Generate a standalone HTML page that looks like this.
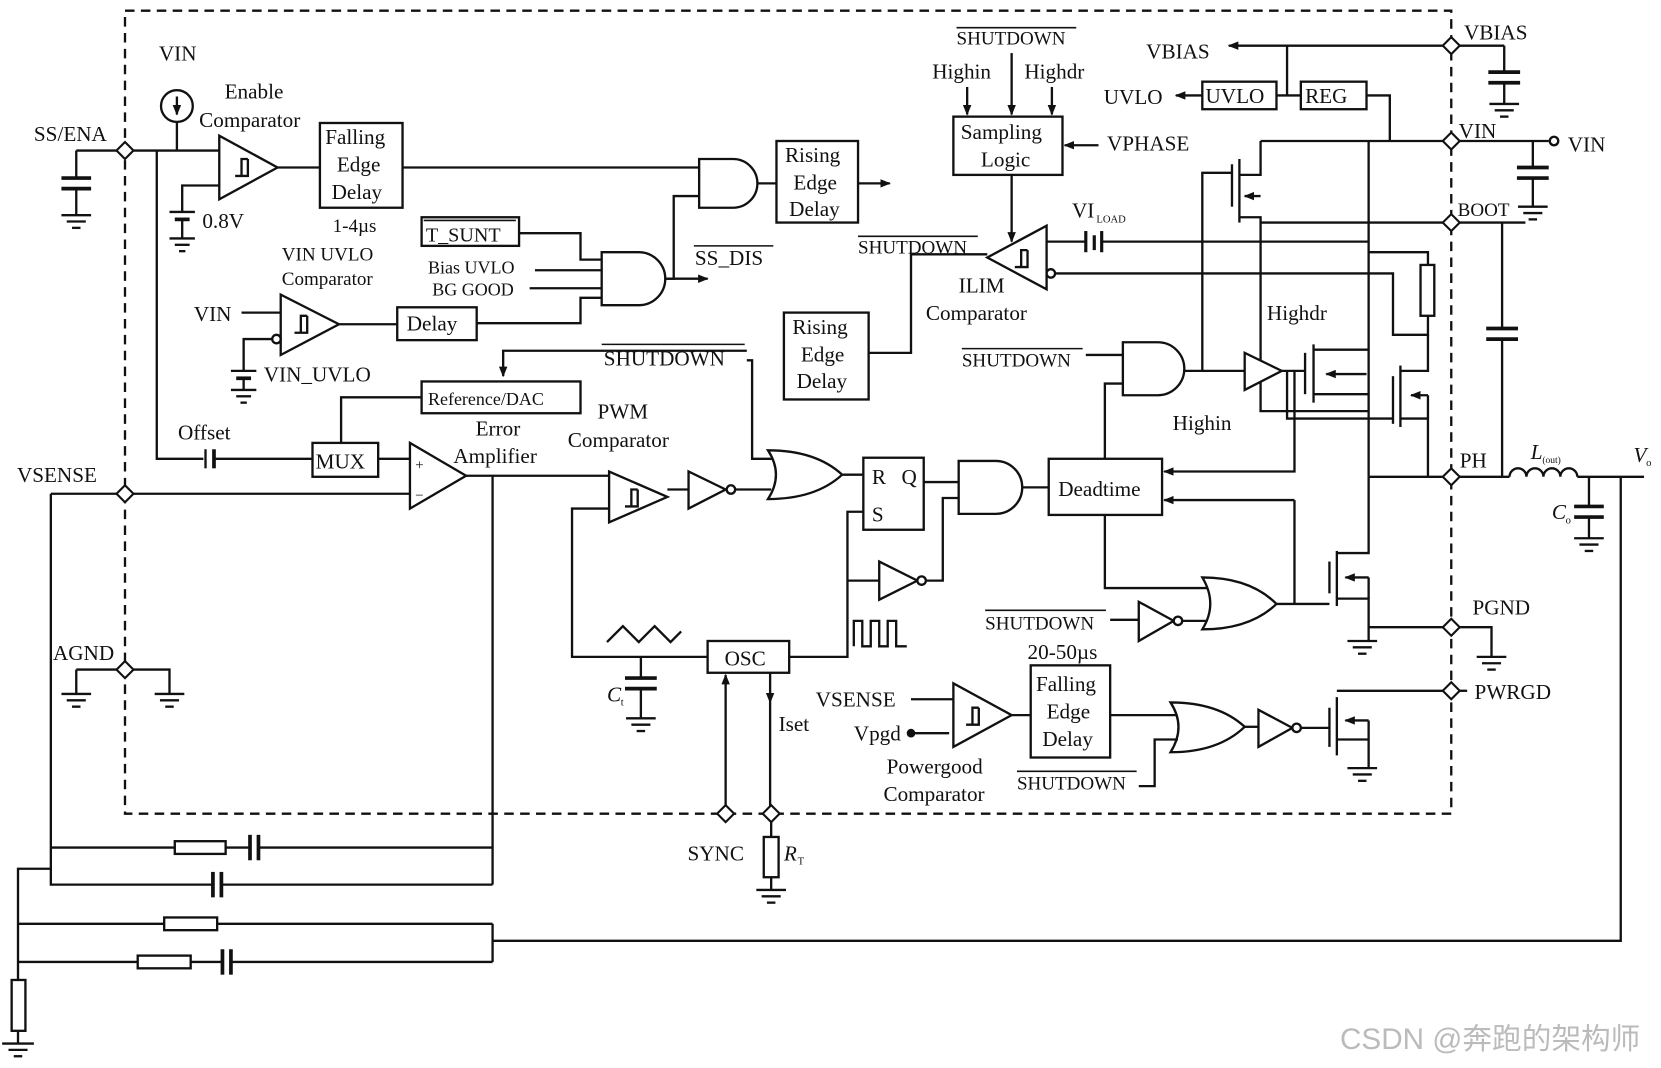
<!DOCTYPE html>
<html><head><meta charset="utf-8"><style>
html,body{margin:0;padding:0;background:#fff;}
svg{display:block}
text{font-family:"Liberation Serif",serif;fill:#111}
</style></head><body>
<svg width="1661" height="1068" viewBox="0 0 1568 1008" xmlns="http://www.w3.org/2000/svg" font-size="20">
<defs>
<marker id="ar" markerWidth="10" markerHeight="8" refX="9" refY="4" orient="auto" markerUnits="userSpaceOnUse" viewBox="0 0 10 8"><path d="M0,0 L10,4 L0,8 Z" fill="#111"/></marker>
</defs>
<g stroke="#111" stroke-width="2.2" fill="none">
<rect x="118" y="10" width="1252" height="758" stroke-dasharray="9,6"/>

<line x1="72" y1="142" x2="207" y2="142"/>
<line x1="72" y1="142" x2="72" y2="168"/>
<line x1="58" y1="168" x2="86" y2="168" stroke-width="3.5"/><line x1="58" y1="178" x2="86" y2="178" stroke-width="3.5"/>
<line x1="72" y1="178" x2="72" y2="203"/>
<line x1="58" y1="203" x2="86" y2="203"/><line x1="63" y1="209" x2="81" y2="209"/><line x1="68" y1="215" x2="76" y2="215"/>
<circle cx="167" cy="100" r="15"/>
<line x1="167" y1="91" x2="167" y2="108" marker-end="url(#ar)"/>
<line x1="167" y1="115" x2="167" y2="142"/>
<polygon points="207,128 207,188 262,158" fill="#fff"/>
<path d="M222,166 h6 v-16 h6 M228,166 h6 v-16"/>
<line x1="262" y1="158" x2="302" y2="158"/>
<path d="M207,175 H172 V200"/>
<line x1="160" y1="200" x2="184" y2="200"/><line x1="165" y1="207" x2="179" y2="207" stroke-width="3.5"/>
<line x1="172" y1="207" x2="172" y2="225"/>
<line x1="160" y1="225" x2="184" y2="225"/><line x1="165" y1="231" x2="179" y2="231"/><line x1="169" y1="237" x2="175" y2="237"/>
<rect x="302" y="116" width="78" height="80"/>
<line x1="380" y1="158" x2="660" y2="158"/>
<path d="M660,150 H692 A23,23 0 0 1 692,196 H660 Z" fill="#fff"/>
<line x1="715" y1="173" x2="733" y2="173"/>
<rect x="733" y="133" width="77" height="77"/>
<line x1="810" y1="173" x2="840" y2="173" marker-end="url(#ar)"/>
<path d="M628,263 H636 V185 H660"/>
<path d="M568,238 H603 A25,25 0 0 1 603,288 H568 Z" fill="#fff"/>
<line x1="628" y1="263" x2="668" y2="263" marker-end="url(#ar)"/>
<rect x="398" y="205" width="92" height="27"/>
<path d="M490,220 H548 V245 H568"/>
<line x1="505" y1="255" x2="568" y2="255"/>
<line x1="500" y1="272" x2="568" y2="272"/>
<path d="M450,305 H548 V281 H568"/>
<line x1="228" y1="295" x2="265" y2="295"/>
<polygon points="265,278 265,335 320,306" fill="#fff"/>
<path d="M278,314 h6 v-16 h6 M284,314 h6 v-16"/>
<circle cx="261" cy="320" r="4" fill="#fff"/>
<path d="M257,320 H230 V350"/>
<line x1="218" y1="350" x2="242" y2="350"/><line x1="223" y1="357" x2="237" y2="357" stroke-width="3.5"/>
<line x1="230" y1="357" x2="230" y2="368"/>
<line x1="218" y1="368" x2="242" y2="368"/><line x1="223" y1="374" x2="237" y2="374"/><line x1="227" y1="380" x2="233" y2="380"/>
<line x1="320" y1="306" x2="375" y2="306"/>
<rect x="375" y="290" width="75" height="31"/>
<path d="M148,142 V433 H192"/>
<line x1="194" y1="424" x2="194" y2="442"/><line x1="202" y1="424" x2="202" y2="442" stroke-width="3.5"/>
<line x1="202" y1="433" x2="295" y2="433"/>
<rect x="295" y="418" width="62" height="32"/>
<path d="M322,418 V375 H398"/>
<rect x="398" y="360" width="150" height="30"/>
<path d="M705,331 H475 V355" marker-end="url(#ar)"/>
<line x1="357" y1="433" x2="387" y2="433"/>
<polygon points="387,418 387,480 440,449" fill="#fff"/>
<line x1="48" y1="466" x2="387" y2="466"/>
<path d="M440,449 H575"/>
<path d="M465,449 V835"/>
<polygon points="575,445 575,493 630,469" fill="#fff"/>
<path d="M590,478 h6 v-16 h6 M596,478 h6 v-16"/>
<path d="M575,480 H540 V620 H668"/>
<line x1="630" y1="462" x2="650" y2="462"/>
<polygon points="650,445 650,480 685,462" fill="#fff"/>
<circle cx="690" cy="462" r="4" fill="#fff"/>
<line x1="694" y1="462" x2="728" y2="462"/>
<path d="M725,425 Q770,425 795,448 Q770,471 725,471 Q740,448 725,425 Z" fill="#fff"/>
<path d="M705,340 H710 V433 H730"/>
<line x1="795" y1="448" x2="815" y2="448"/>
<rect x="815" y="432" width="57" height="68"/>
<path d="M872,455 H905"/>
<path d="M905,435 H940 A25,25 0 0 1 940,485 H905 Z" fill="#fff"/>
<line x1="965" y1="460" x2="990" y2="460"/>
<rect x="990" y="433" width="107" height="53"/>
<path d="M815,483 H800 V620 H745"/>
<path d="M800,548 H830"/>
<polygon points="830,530 830,566 866,548" fill="#fff"/>
<circle cx="870" cy="548" r="4" fill="#fff"/>
<path d="M874,548 H890 V470 H905"/>
<path d="M806,610 V586 h8 v24 h8 v-24 h8 v24 h8 v-24 h8 v24 h10"/>
<path d="M573,606 l15,-15 l15,15 l15,-15 l15,15 l10,-10"/>
<line x1="605" y1="620" x2="605" y2="640"/>
<line x1="590" y1="640" x2="620" y2="640" stroke-width="3.5"/><line x1="590" y1="650" x2="620" y2="650" stroke-width="3.5"/>
<line x1="605" y1="650" x2="605" y2="678"/>
<line x1="591" y1="678" x2="619" y2="678"/><line x1="596" y1="684" x2="614" y2="684"/><line x1="601" y1="690" x2="609" y2="690"/>
<rect x="668" y="605" width="77" height="30"/>
<line x1="685" y1="763" x2="685" y2="637" marker-end="url(#ar)"/>
<line x1="727" y1="635" x2="727" y2="663" marker-end="url(#ar)"/>
<line x1="727" y1="663" x2="727" y2="763"/>
<line x1="728" y1="773" x2="728" y2="790"/>
<rect x="721" y="790" width="14" height="38"/>
<line x1="728" y1="828" x2="728" y2="840"/>
<line x1="714" y1="840" x2="742" y2="840"/><line x1="719" y1="846" x2="737" y2="846"/><line x1="724" y1="852" x2="732" y2="852"/>
<rect x="740" y="295" width="80" height="82"/>
<path d="M820,333 H860 V240 H932"/>
<polygon points="988,213 988,273 932,243" fill="#fff"/>
<path d="M958,252 h6 v-16 h6 M964,252 h6 v-16"/>
<circle cx="992" cy="258" r="4" fill="#fff"/>
<line x1="988" y1="228" x2="1025" y2="228"/>
<line x1="1025" y1="218" x2="1025" y2="238" stroke-width="3"/>
<line x1="1033" y1="222" x2="1033" y2="236" stroke-width="3"/>
<line x1="1040" y1="218" x2="1040" y2="238" stroke-width="3"/>
<line x1="1040" y1="228" x2="1292" y2="228"/>
<path d="M996,258 H1315 V316 H1348 V298"/>
<rect x="900" y="110" width="103" height="55"/>
<line x1="955" y1="165" x2="955" y2="228" marker-end="url(#ar)"/>
<line x1="955" y1="50" x2="955" y2="108" marker-end="url(#ar)"/>
<line x1="913" y1="82" x2="913" y2="108" marker-end="url(#ar)"/>
<line x1="993" y1="82" x2="993" y2="108" marker-end="url(#ar)"/>
<line x1="1037" y1="137" x2="1005" y2="137" marker-end="url(#ar)"/>
<path d="M1368,43 H1160" marker-end="url(#ar)"/>
<path d="M1215,43 V90"/>
<path d="M1420,43 V68"/>
<line x1="1405" y1="68" x2="1435" y2="68" stroke-width="3.5"/><line x1="1405" y1="78" x2="1435" y2="78" stroke-width="3.5"/>
<line x1="1420" y1="78" x2="1420" y2="98"/>
<line x1="1406" y1="98" x2="1434" y2="98"/><line x1="1411" y1="104" x2="1429" y2="104"/><line x1="1416" y1="110" x2="1424" y2="110"/>
<line x1="1372" y1="43" x2="1420" y2="43"/>
<rect x="1135" y="77" width="70" height="26"/>
<rect x="1228" y="77" width="62" height="26"/>
<line x1="1205" y1="90" x2="1228" y2="90"/>
<line x1="1135" y1="90" x2="1110" y2="90" marker-end="url(#ar)"/>
<path d="M1290,90 H1312 V133"/>
<line x1="1190" y1="133" x2="1368" y2="133"/>
<line x1="1372" y1="133" x2="1462" y2="133"/>
<circle cx="1467" cy="133" r="4" fill="#fff"/>
<path d="M1447,133 V158"/>
<line x1="1432" y1="158" x2="1462" y2="158" stroke-width="3.5"/><line x1="1432" y1="168" x2="1462" y2="168" stroke-width="3.5"/>
<line x1="1447" y1="168" x2="1447" y2="195"/>
<line x1="1433" y1="195" x2="1461" y2="195"/><line x1="1438" y1="201" x2="1456" y2="201"/><line x1="1443" y1="207" x2="1451" y2="207"/>
<!-- top sense NMOS -->
<path d="M1190,133 V165 H1170"/>
<line x1="1170" y1="150" x2="1170" y2="210"/>
<line x1="1163" y1="155" x2="1163" y2="195"/>
<line x1="1190" y1="185" x2="1175" y2="185" marker-end="url(#ar)"/>
<path d="M1163,163 H1135 V350"/>
<path d="M1170,205 H1190 V388 H1292"/>
<line x1="1190" y1="210" x2="1368" y2="210"/>
<line x1="1372" y1="210" x2="1440" y2="210"/>
<path d="M1418,210 V310"/>
<line x1="1403" y1="310" x2="1433" y2="310" stroke-width="3.5"/><line x1="1403" y1="320" x2="1433" y2="320" stroke-width="3.5"/>
<line x1="1418" y1="320" x2="1418" y2="450"/>
<path d="M1292,133 V450"/>
<rect x="1341" y="250" width="13" height="48"/>
<path d="M1292,238 H1348 V250"/>
<!-- highdr MOSFETs -->
<line x1="1232" y1="333" x2="1232" y2="372"/>
<line x1="1240" y1="325" x2="1240" y2="380"/>
<path d="M1240,330 H1292"/>
<line x1="1290" y1="353" x2="1252" y2="353" marker-end="url(#ar)"/>
<path d="M1240,372 H1292"/>
<line x1="1315" y1="355" x2="1315" y2="400"/>
<line x1="1322" y1="345" x2="1322" y2="403"/>
<path d="M1322,350 H1348 V316"/>
<line x1="1348" y1="373" x2="1332" y2="373" marker-end="url(#ar)"/>
<path d="M1322,395 H1348 V450 M1348,373 V395"/>
<path d="M1210,350 H1232"/>
<path d="M1215,350 V395 H1315"/>
<path d="M1060,323 H1093 A25,25 0 0 1 1093,373 H1060 Z" fill="#fff"/>
<line x1="1025" y1="335" x2="1060" y2="335"/>
<path d="M1060,362 H1043 V433"/>
<line x1="1118" y1="350" x2="1175" y2="350"/>
<polygon points="1175,333 1175,368 1210,350" fill="#fff"/>
<path d="M1222,350 V445 H1099" marker-end="url(#ar)"/>
<path d="M1222,472 H1099" marker-end="url(#ar)"/>
<path d="M1222,472 V570"/>
<line x1="1292" y1="450" x2="1368" y2="450"/>
<line x1="1372" y1="450" x2="1425" y2="450"/>
<path d="M1425,450 a8,8 0 0 1 16,0 a8,8 0 0 1 16,0 a8,8 0 0 1 16,0 a8,8 0 0 1 16,0"/>
<line x1="1489" y1="450" x2="1552" y2="450"/>
<line x1="1500" y1="450" x2="1500" y2="478"/>
<line x1="1486" y1="478" x2="1514" y2="478" stroke-width="3.5"/><line x1="1486" y1="488" x2="1514" y2="488" stroke-width="3.5"/>
<line x1="1500" y1="488" x2="1500" y2="508"/>
<line x1="1486" y1="508" x2="1514" y2="508"/><line x1="1491" y1="514" x2="1509" y2="514"/><line x1="1496" y1="520" x2="1504" y2="520"/>
<path d="M1530,450 V888 H465"/>
<path d="M1292,450 V522 H1262"/>
<line x1="1255" y1="530" x2="1255" y2="560"/>
<line x1="1262" y1="520" x2="1262" y2="572"/>
<line x1="1292" y1="545" x2="1270" y2="545" marker-end="url(#ar)"/>
<path d="M1262,565 H1292 V592 H1368"/>
<path d="M1292,545 V565"/>
<path d="M1292,592 V605"/>
<line x1="1272" y1="605" x2="1300" y2="605"/><line x1="1277" y1="611" x2="1295" y2="611"/><line x1="1282" y1="617" x2="1290" y2="617"/>
<path d="M1372,592 H1408 V620"/>
<line x1="1394" y1="620" x2="1422" y2="620"/><line x1="1399" y1="626" x2="1417" y2="626"/><line x1="1404" y1="632" x2="1412" y2="632"/>
<path d="M1043,486 V555 H1140"/>
<path d="M1135,545 Q1180,545 1205,570 Q1180,594 1135,594 Q1150,570 1135,545 Z" fill="#fff"/>
<line x1="1205" y1="570" x2="1255" y2="570"/>
<line x1="1048" y1="585" x2="1075" y2="585"/>
<polygon points="1075,568 1075,605 1108,586" fill="#fff"/>
<circle cx="1112" cy="586" r="4" fill="#fff"/>
<line x1="1116" y1="586" x2="1140" y2="586"/>
<line x1="860" y1="660" x2="900" y2="660"/>
<line x1="860" y1="692" x2="896" y2="692"/>
<circle cx="860" cy="692" r="3" fill="#111"/>
<polygon points="900,645 900,705 955,675" fill="#fff"/>
<path d="M912,684 h6 v-16 h6 M918,684 h6 v-16"/>
<line x1="955" y1="675" x2="973" y2="675"/>
<rect x="973" y="628" width="75" height="87"/>
<line x1="1048" y1="675" x2="1110" y2="675"/>
<path d="M1105,663 Q1150,663 1175,686 Q1150,710 1105,710 Q1120,686 1105,663 Z" fill="#fff"/>
<path d="M1075,742 H1090 V698 H1112"/>
<line x1="1175" y1="686" x2="1188" y2="686"/>
<polygon points="1188,670 1188,705 1220,687" fill="#fff"/>
<circle cx="1224" cy="687" r="4" fill="#fff"/>
<line x1="1228" y1="687" x2="1255" y2="687"/>
<line x1="1255" y1="668" x2="1255" y2="705"/>
<line x1="1262" y1="658" x2="1262" y2="713"/>
<path d="M1262,652 H1368"/>
<line x1="1292" y1="680" x2="1270" y2="680" marker-end="url(#ar)"/>
<path d="M1292,680 V725 M1262,698 H1292"/>
<line x1="1272" y1="725" x2="1300" y2="725"/><line x1="1277" y1="731" x2="1295" y2="731"/><line x1="1282" y1="737" x2="1290" y2="737"/>
<line x1="1372" y1="652" x2="1385" y2="652"/>
<path d="M72,632 H160 V655"/>
<path d="M72,632 V655"/>
<line x1="58" y1="655" x2="86" y2="655"/><line x1="63" y1="661" x2="81" y2="661"/><line x1="68" y1="667" x2="76" y2="667"/>
<line x1="146" y1="655" x2="174" y2="655"/><line x1="151" y1="661" x2="169" y2="661"/><line x1="156" y1="667" x2="164" y2="667"/>
<path d="M48,466 V835 H200"/>
<line x1="48" y1="800" x2="165" y2="800"/>
<rect x="165" y="794" width="48" height="12"/>
<line x1="213" y1="800" x2="235" y2="800"/>
<line x1="236" y1="788" x2="236" y2="812" stroke-width="3.5"/><line x1="244" y1="788" x2="244" y2="812" stroke-width="3.5"/>
<line x1="244" y1="800" x2="465" y2="800"/>
<line x1="201" y1="823" x2="201" y2="847" stroke-width="3.5"/><line x1="209" y1="823" x2="209" y2="847" stroke-width="3.5"/>
<line x1="209" y1="835" x2="465" y2="835"/>
<path d="M48,820 H17 V925"/>
<line x1="17" y1="872" x2="155" y2="872"/>
<rect x="155" y="866" width="50" height="12"/>
<line x1="205" y1="872" x2="465" y2="872"/>
<line x1="17" y1="908" x2="130" y2="908"/>
<rect x="130" y="902" width="50" height="12"/>
<line x1="180" y1="908" x2="210" y2="908"/>
<line x1="210" y1="896" x2="210" y2="920" stroke-width="3.5"/><line x1="218" y1="896" x2="218" y2="920" stroke-width="3.5"/>
<line x1="218" y1="908" x2="465" y2="908"/>
<line x1="465" y1="872" x2="465" y2="908"/>
<rect x="11" y="925" width="13" height="48"/>
<line x1="17" y1="973" x2="17" y2="985"/>
<line x1="2" y1="985" x2="32" y2="985"/><line x1="8" y1="991" x2="26" y2="991"/><line x1="13" y1="997" x2="21" y2="997"/>
<line x1="903" y1="26" x2="1016" y2="26" stroke-width="1.5"/>
<line x1="400" y1="208" x2="487" y2="208" stroke-width="1.5"/>
<line x1="655" y1="232" x2="730" y2="232" stroke-width="1.5"/>
<line x1="810" y1="223" x2="923" y2="223" stroke-width="1.5"/>
<line x1="568" y1="325" x2="703" y2="325" stroke-width="1.5"/>
<line x1="908" y1="329" x2="1022" y2="329" stroke-width="1.5"/>
<line x1="930" y1="576" x2="1044" y2="576" stroke-width="1.5"/>
<line x1="960" y1="728" x2="1073" y2="728" stroke-width="1.5"/>
</g>
<g stroke="#111" stroke-width="2" fill="#fff">
<path d="M118,134 l8,8 l-8,8 l-8,-8 Z"/><path d="M118,458 l8,8 l-8,8 l-8,-8 Z"/><path d="M118,624 l8,8 l-8,8 l-8,-8 Z"/>
<path d="M1370,35 l8,8 l-8,8 l-8,-8 Z"/><path d="M1370,125 l8,8 l-8,8 l-8,-8 Z"/><path d="M1370,202 l8,8 l-8,8 l-8,-8 Z"/>
<path d="M1370,442 l8,8 l-8,8 l-8,-8 Z"/><path d="M1370,584 l8,8 l-8,8 l-8,-8 Z"/><path d="M1370,644 l8,8 l-8,8 l-8,-8 Z"/>
<path d="M685,760 l8,8 l-8,8 l-8,-8 Z"/><path d="M728,760 l8,8 l-8,8 l-8,-8 Z"/>
</g>
<text x="150" y="57">VIN</text>
<text x="212" y="93">Enable</text>
<text x="188" y="120">Comparator</text>
<text x="32" y="133">SS/ENA</text>
<text x="191" y="215">0.8V</text>
<text x="307" y="136">Falling</text><text x="318" y="162">Edge</text><text x="313" y="188">Delay</text>
<text x="314" y="219" style="font-size:18px">1-4µs</text>
<text x="741" y="153">Rising</text><text x="749" y="179">Edge</text><text x="745" y="204">Delay</text>
<text x="402" y="228" style="font-size:19px">T_SUNT</text>
<text x="404" y="258" style="font-size:17px">Bias UVLO</text>
<text x="408" y="279" style="font-size:17px">BG GOOD</text>
<text x="656" y="250">SS_DIS</text>
<text x="266" y="246" style="font-size:18px">VIN UVLO</text>
<text x="266" y="269" style="font-size:18px">Comparator</text>
<text x="183" y="303">VIN</text>
<text x="384" y="312">Delay</text>
<text x="249" y="360">VIN_UVLO</text>
<text x="168" y="415">Offset</text>
<text x="298" y="442">MUX</text>
<text x="404" y="382" style="font-size:17px">Reference/DAC</text>
<text x="449" y="411">Error</text>
<text x="428" y="437">Amplifier</text>
<text x="570" y="345">SHUTDOWN</text>
<text x="564" y="395">PWM</text>
<text x="536" y="422">Comparator</text>
<text x="392" y="443" style="font-size:14px">+</text><text x="392" y="472" style="font-size:14px">−</text>
<text x="16" y="455">VSENSE</text>
<text x="50" y="623">AGND</text>
<text x="748" y="315">Rising</text><text x="756" y="341">Edge</text><text x="752" y="366">Delay</text>
<text x="823" y="457">R</text><text x="851" y="457">Q</text><text x="823" y="492">S</text>
<text x="999" y="468">Deadtime</text>
<text x="684" y="628">OSC</text>
<text x="573" y="662" font-style="italic">C</text><text x="586" y="666" style="font-size:10px">t</text>
<text x="735" y="690">Iset</text>
<text x="649" y="812">SYNC</text>
<text x="740" y="812" font-style="italic">R</text><text x="753" y="816" style="font-size:10px">T</text>
<text x="903" y="42" style="font-size:18px">SHUTDOWN</text>
<text x="880" y="74">Highin</text>
<text x="967" y="74">Highdr</text>
<text x="907" y="131">Sampling</text>
<text x="926" y="157">Logic</text>
<text x="1045" y="142">VPHASE</text>
<text x="1082" y="55">VBIAS</text>
<text x="1042" y="98">UVLO</text>
<text x="1138" y="97">UVLO</text>
<text x="1232" y="97">REG</text>
<text x="1382" y="37">VBIAS</text>
<text x="1377" y="130">VIN</text>
<text x="1480" y="143">VIN</text>
<text x="1376" y="204" style="font-size:18px">BOOT</text>
<text x="1012" y="205">VI</text><text x="1035" y="210" style="font-size:10px">LOAD</text>
<text x="810" y="239" style="font-size:18px">SHUTDOWN</text>
<text x="905" y="276">ILIM</text>
<text x="874" y="302">Comparator</text>
<text x="1196" y="302">Highdr</text>
<text x="908" y="346" style="font-size:18px">SHUTDOWN</text>
<text x="1107" y="406">Highin</text>
<text x="1378" y="441">PH</text>
<text x="1445" y="433" font-style="italic">L</text><text x="1456" y="437" style="font-size:9px">(out)</text>
<text x="1542" y="436" font-style="italic">V</text><text x="1554" y="440" style="font-size:10px">o</text>
<text x="1465" y="490" font-style="italic">C</text><text x="1478" y="494" style="font-size:10px">o</text>
<text x="1390" y="580">PGND</text>
<text x="1392" y="660">PWRGD</text>
<text x="930" y="594" style="font-size:18px">SHUTDOWN</text>
<text x="970" y="622">20-50µs</text>
<text x="978" y="652">Falling</text><text x="988" y="678">Edge</text><text x="984" y="704">Delay</text>
<text x="770" y="667">VSENSE</text>
<text x="806" y="699">Vpgd</text>
<text x="837" y="730">Powergood</text>
<text x="834" y="756">Comparator</text>
<text x="960" y="745" style="font-size:18px">SHUTDOWN</text>
<text x="1265" y="990" style="font-family:'Liberation Sans','Noto Sans CJK SC',sans-serif;fill:#bbb;font-size:28px">CSDN @奔跑的架构师</text>
</svg>
</body></html>
